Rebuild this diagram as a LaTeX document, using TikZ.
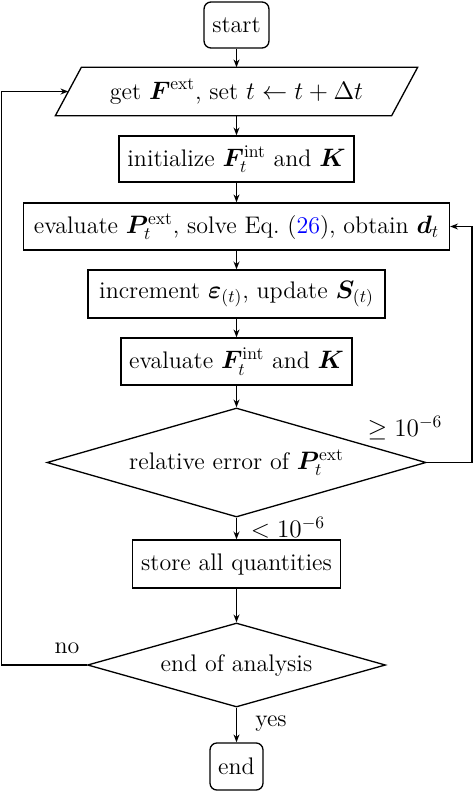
\documentclass[tikz,border=0pt]{standalone}
\usepackage{amsmath,bm}
\usetikzlibrary{shapes.geometric,arrows.meta,calc}
\begin{document}
\begin{tikzpicture}[x=0.5714pt,y=-0.5714pt,
  line width=0.75pt,
  every node/.style={font=\fontsize{13.7pt}{16pt}\selectfont},
  arr/.style={-{Stealth[length=4.5pt,width=3.4pt]}},
  boxnode/.style={draw,rectangle,inner sep=2pt,minimum height=26.9pt},
  term/.style={draw,rectangle,rounded corners=4pt,inner sep=2pt,minimum height=26.3pt},
  decide/.style={draw,diamond,inner sep=0pt},
  lbl/.style={inner sep=1pt}]
\useasboundingbox (0,0) rectangle (474,791);
\node[term,minimum width=37.1pt] (start) at (236.5,25) {start};
\node[inner sep=2pt,minimum width=191.4pt,minimum height=26.9pt] (get) at (236.5,91.5) {get $\bm{F}^{\mathrm{ext}}$, set $t \leftarrow t+\Delta t$};
\draw ($(get.south west)+(-13,0)$) -- ($(get.north west)+(13,0)$) -- ($(get.north east)+(13,0)$) -- ($(get.south east)+(-13,0)$) -- cycle;
\node[boxnode,minimum width=134.3pt,minimum height=26.3pt] (init) at (236.5,159) {initialize $\bm{F}_t^{\mathrm{int}}$ and $\bm{K}$};
\node[boxnode,minimum width=243.4pt] (evalP) at (236.5,226.5) {evaluate $\bm{P}_t^{\mathrm{ext}}$, solve Eq.~(\textcolor{blue}{26}), obtain $\bm{d}_t$};
\node[boxnode,minimum width=169.7pt,minimum height=27.4pt] (incr) at (236.5,294) {increment $\bm{\varepsilon}_{(t)}$, update $\bm{S}_{(t)}$};
\node[boxnode,minimum width=132pt] (evalF) at (236.5,361.5) {evaluate $\bm{F}_t^{\mathrm{int}}$ and $\bm{K}$};
\node[decide,minimum width=216.6pt,minimum height=62.3pt,shape aspect=3.48] (d1) at (236.5,462.5) {relative error of $\bm{P}_t^{\mathrm{ext}}$};
\node[boxnode,minimum width=118.9pt,minimum height=27.4pt] (store) at (236.5,564) {store all quantities};
\node[decide,minimum width=170.3pt,minimum height=48pt,shape aspect=3.55] (d2) at (236.5,665) {end of analysis};
\node[term,minimum width=30.3pt,minimum height=26.9pt] (end) at (236.5,766.5) {end};
\coordinate (rr) at (472,462.5);
\coordinate (ll) at (1.5,665);
\draw[arr] (start) -- (get);
\draw[arr] (get) -- (init);
\draw[arr] (init) -- (evalP);
\draw[arr] (evalP) -- (incr);
\draw[arr] (incr) -- (evalF);
\draw[arr] (evalF) -- (d1);
\draw[arr] (d1) -- (store);
\draw[arr] (store) -- (d2);
\draw[arr] (d2) -- (end);
\draw[arr] (d1.east) -- (rr) |- (evalP.east);
\draw[arr] (d2.west) -- (ll) |- (get.west);
\node[lbl] (ge) at (405,428) {$\geq 10^{-6}$};
\node[lbl] (lt) at (288,528) {$< 10^{-6}$};
\node[lbl] (no) at (67,648) {no};
\node[lbl] (yes) at (271,724) {yes};
\end{tikzpicture}
\end{document}
